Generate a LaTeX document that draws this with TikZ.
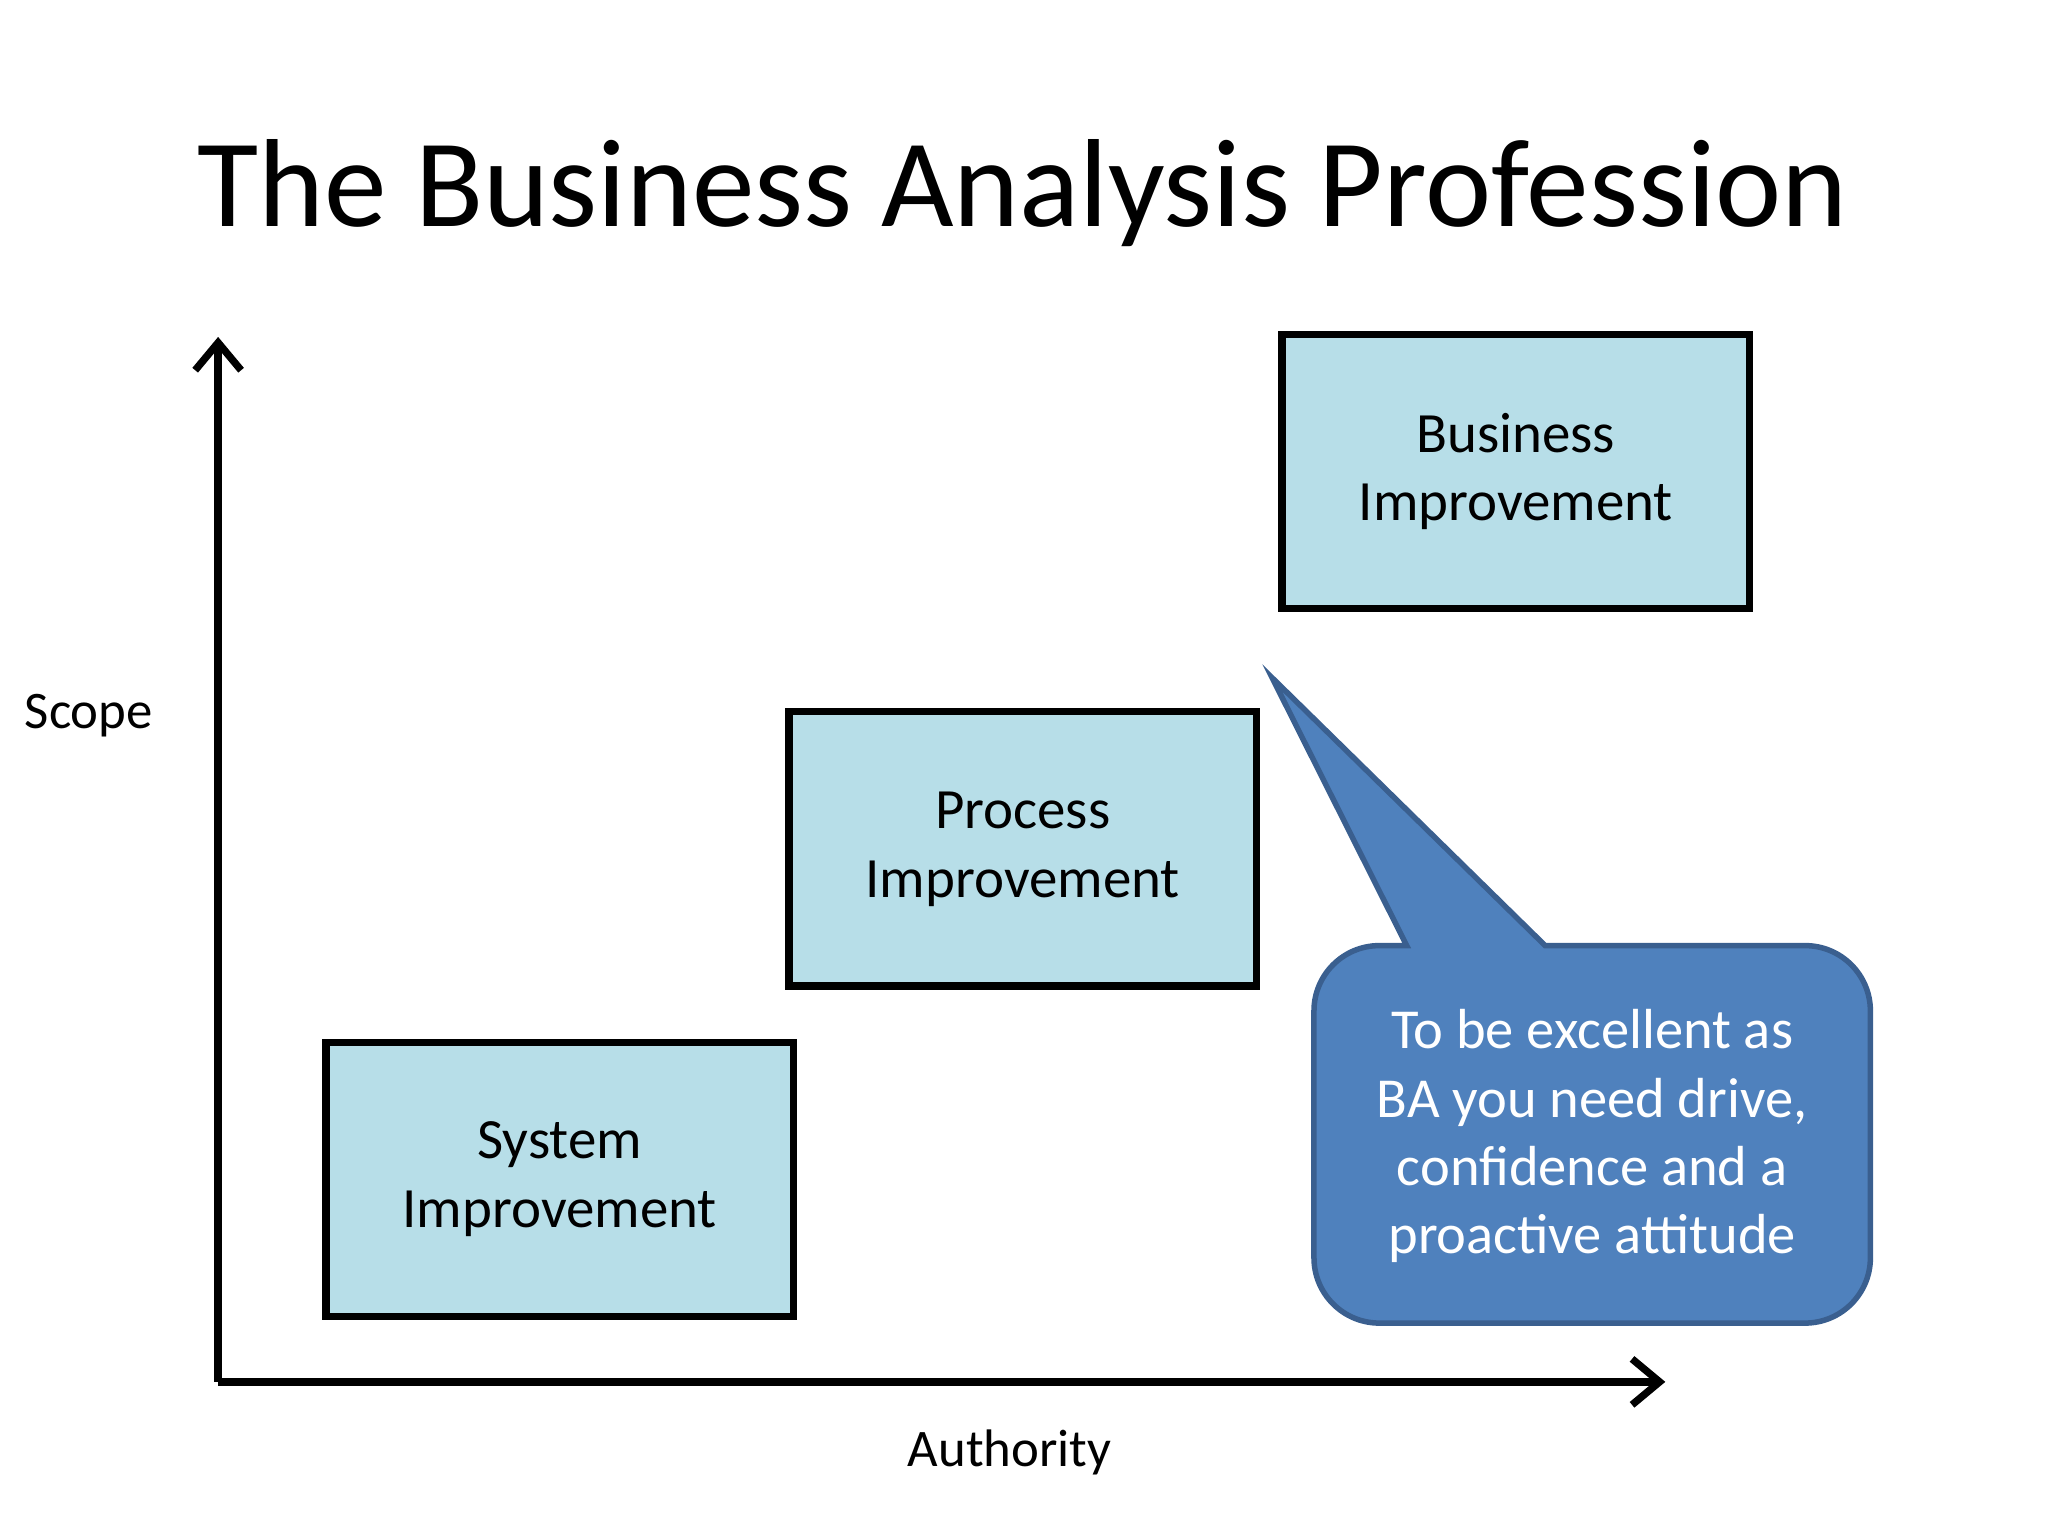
\documentclass[tikz,border=0pt]{standalone}
\usepackage{fontspec}
\usetikzlibrary{arrows.meta}
\setmainfont{Carlito}
\definecolor{boxfill}{HTML}{B7DEE8}
\definecolor{callfill}{HTML}{4F81BD}
\definecolor{calldraw}{HTML}{3A5F8F}
\begin{document}
\begin{tikzpicture}[x=1cm,y=1cm,
  imp/.style={draw=black,line width=1.6pt,fill=boxfill,minimum width=3.58cm,minimum height=2.1cm,align=center,font=\fontsize{12.4}{15}\selectfont},
  lbl/.style={font=\fontsize{11.5}{14}\selectfont}]
\useasboundingbox (0,0) rectangle (15.68,11.76);
\node[font=\fontsize{27.3}{32}\selectfont] (title) at (7.83,10.28) {The Business Analysis Profession};
\coordinate (o) at (1.67,1.18);
\coordinate (ytop) at (1.67,9.18);
\coordinate (xend) at (12.75,1.18);
\draw[line width=1.6pt,-{Straight Barb[length=6pt,width=10pt]}] (o) -- (ytop);
\draw[line width=1.6pt,-{Straight Barb[length=6pt,width=10pt]}] (o) -- (xend);
\node[lbl] (scope) at (0.68,6.28) {Scope};
\node[lbl] (auth) at (7.73,0.64) {Authority};
\node[imp] (bus) at (11.605,8.15) {Business\\Improvement};
\node[imp] (proc) at (7.83,5.26) {Process\\Improvement};
\node[imp] (sys) at (4.285,2.73) {System\\Improvement};
\draw[fill=callfill,draw=calldraw,line width=1.2pt]
 (10.77,4.52) -- (9.74,6.57) -- (11.83,4.52) -- (13.82,4.52) arc(90:0:0.5)
 -- (14.32,2.13) arc(0:-90:0.5) -- (10.56,1.63) arc(270:180:0.5)
 -- (10.06,4.02) arc(180:90:0.5) -- cycle;
\node[text=white,align=center,font=\fontsize{12.3}{14.9}\selectfont] (call) at (12.19,3.06)
 {To be excellent as\\BA you need drive,\\confidence and a\\proactive attitude};
\end{tikzpicture}
\end{document}
